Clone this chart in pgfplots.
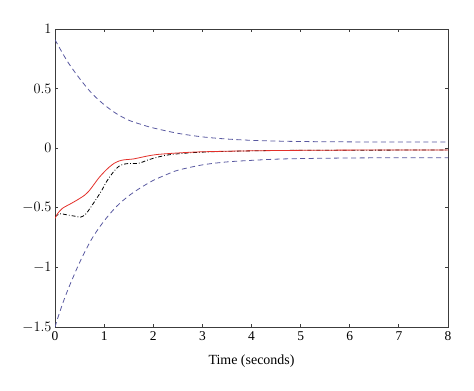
\documentclass[border=0pt]{standalone}
\usepackage{fontspec}
\setmainfont{Liberation Serif}
\usepackage{pgfplots}
\pgfplotsset{compat=1.18}
\definecolor{dashblue}{HTML}{5858A0}
\definecolor{axgray}{HTML}{3C3C3C}
\definecolor{myred}{HTML}{E3302A}
\begin{document}
\begin{tikzpicture}
\path[use as bounding box] (-55bp,-64bp) rectangle (419bp,327bp);
\begin{axis}[
  at={(0,0)}, anchor=south west,
  scale only axis, width=393bp, height=298bp,
  xmin=0, xmax=8, ymin=-1.5, ymax=1,
  xtick={0,1,...,8}, ytick={-1.5,-1,-0.5,0,0.5,1},
  yticklabels={$-1.5$,$-1$,$-0.5$,$0$,$0.5$,$1$},
  tick align=inside, tick pos=both,
  major tick length=3bp,
  axis line style={axgray, line width=0.9pt},
  every tick/.style={axgray, line width=0.8pt},
  tick label style={font=\fontsize{13.5}{15}\selectfont, text=black},
  /pgf/number format/assume math mode=true,
  xticklabel style={yshift=-1.5bp},
  xlabel={Time (seconds)},
  xlabel style={font=\fontsize{14}{16}\selectfont, at={(axis description cs:0.5,0)}, anchor=center, yshift=-34.5bp},
]
\addplot[dashblue, line width=0.8pt, dash pattern=on 5bp off 3.5bp, smooth, tension=0.5] coordinates {
(0,0.91) (0.25,0.73) (0.5,0.585) (0.75,0.46) (1.0,0.365) (1.25,0.29) (1.5,0.235) (1.75,0.20) (2.0,0.17) (2.5,0.125) (3.0,0.095) (3.5,0.077) (4.0,0.066) (4.5,0.06) (5.0,0.056) (6.0,0.053) (7.0,0.052) (8.0,0.052)};
\addplot[dashblue, line width=0.8pt, dash pattern=on 5bp off 3.5bp, smooth, tension=0.5] coordinates {
(0,-1.5) (0.1,-1.37) (0.25,-1.2) (0.5,-0.96) (0.75,-0.76) (1.0,-0.61) (1.25,-0.49) (1.5,-0.40) (1.75,-0.33) (2.0,-0.27) (2.25,-0.225) (2.5,-0.185) (3.0,-0.14) (3.5,-0.115) (4.0,-0.102) (4.5,-0.092) (5.0,-0.087) (6.0,-0.082) (7.0,-0.08) (8.0,-0.08)};
\addplot[black, line width=0.8pt, dash pattern=on 4bp off 2bp on 0.8bp off 2bp, smooth, tension=0.5] coordinates {
(0,-0.575) (0.1,-0.55) (0.25,-0.56) (0.4,-0.57) (0.52,-0.578) (0.62,-0.555) (0.72,-0.50) (0.85,-0.42) (0.95,-0.355) (1.05,-0.28) (1.15,-0.22) (1.25,-0.17) (1.35,-0.14) (1.5,-0.128) (1.7,-0.127) (1.85,-0.105) (2.0,-0.085) (2.25,-0.06) (2.5,-0.047) (3.0,-0.033) (4.0,-0.022) (5.0,-0.018) (8.0,-0.015)};
\addplot[myred, line width=0.8pt, smooth, tension=0.5] coordinates {
(0,-0.59) (0.05,-0.55) (0.15,-0.505) (0.3,-0.47) (0.45,-0.435) (0.6,-0.395) (0.7,-0.355) (0.8,-0.30) (0.9,-0.245) (1.0,-0.2) (1.1,-0.16) (1.2,-0.128) (1.3,-0.108) (1.4,-0.098) (1.5,-0.094) (1.6,-0.09) (1.75,-0.077) (1.9,-0.064) (2.1,-0.052) (2.5,-0.04) (3.0,-0.03) (4.0,-0.022) (5.0,-0.018) (6.0,-0.016) (8.0,-0.015)};
\end{axis}
\end{tikzpicture}
\end{document}
